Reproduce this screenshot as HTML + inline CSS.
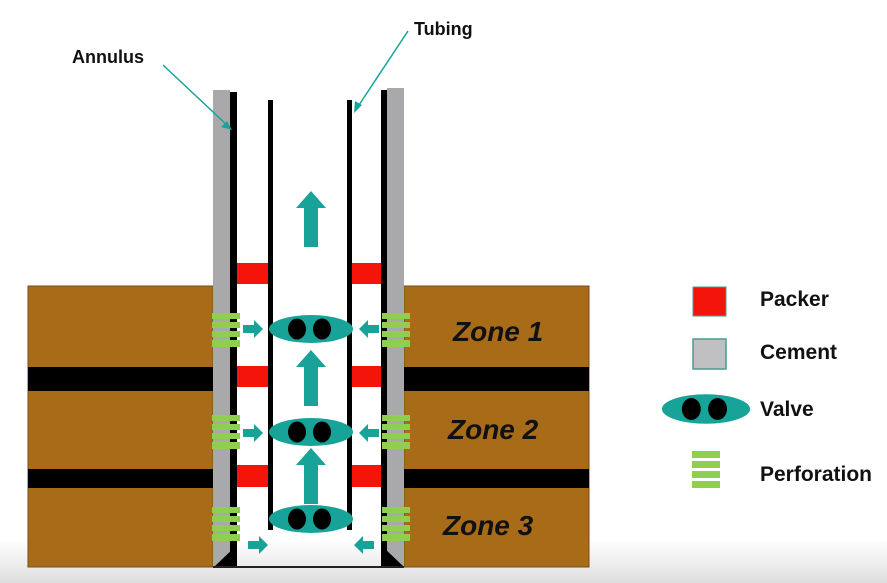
<!DOCTYPE html>
<html><head><meta charset="utf-8"><style>
html,body{margin:0;padding:0;background:#fff}
svg{display:block}
text{font-family:"Liberation Sans",Arial,sans-serif;font-weight:bold;fill:#111}
</style></head><body>
<svg width="887" height="583" viewBox="0 0 887 583" xmlns="http://www.w3.org/2000/svg">
<defs>
<linearGradient id="bg" x1="0" y1="0" x2="0" y2="1">
<stop offset="0" stop-color="#fff"/><stop offset="1" stop-color="#dedede"/>
</linearGradient>
<g id="perf" fill="#8fce4f">
<rect x="0" y="0" width="28" height="6"/><rect x="0" y="9" width="28" height="6"/>
<rect x="0" y="18" width="28" height="6"/><rect x="0" y="27" width="28" height="7"/>
</g>
<g id="valve">
<ellipse cx="0" cy="0" rx="42" ry="14" fill="#17a398"/>
<ellipse cx="-14" cy="0" rx="9" ry="10.5" fill="#000"/>
<ellipse cx="11" cy="0" rx="9" ry="10.5" fill="#000"/>
</g>
<polygon id="bigup" points="0,-28 15,-11 7,-11 7,28 -7,28 -7,-11 -15,-11" fill="#17a398"/>
<polygon id="smr" points="-10,-4 1,-4 1,-9 10,0 1,9 1,4 -10,4" fill="#17a398"/>
</defs>
<rect x="0" y="540" width="887" height="43" fill="url(#bg)"/>
<rect x="28" y="286" width="185" height="281" fill="#a86c19" stroke="#7a4a18" stroke-width="1"/>
<rect x="404" y="286" width="185" height="281" fill="#a86c19" stroke="#7a4a18" stroke-width="1"/>
<rect x="28" y="367" width="185" height="24" fill="#000"/>
<rect x="28" y="469" width="185" height="19" fill="#000"/>
<rect x="404" y="367" width="185" height="24" fill="#000"/>
<rect x="404" y="469" width="185" height="19" fill="#000"/>
<rect x="213" y="90" width="17" height="477" fill="#a9a9ab"/>
<rect x="230" y="92" width="7" height="475" fill="#000"/>
<rect x="387" y="88" width="17" height="479" fill="#a9a9ab"/>
<rect x="381" y="90" width="6" height="477" fill="#000"/>
<polygon points="214,567 237,545 237,567" fill="#000"/>
<polygon points="404,567 381,545 381,567" fill="#000"/>
<rect x="213" y="566" width="191" height="2" fill="#222"/>
<rect x="268" y="100" width="5" height="430" fill="#000"/>
<rect x="347" y="100" width="5" height="430" fill="#000"/>
<rect x="237" y="263" width="31" height="21" fill="#f5140a"/>
<rect x="352" y="263" width="29" height="21" fill="#f5140a"/>
<rect x="237" y="366" width="31" height="21" fill="#f5140a"/>
<rect x="352" y="366" width="29" height="21" fill="#f5140a"/>
<rect x="237" y="465" width="31" height="22" fill="#f5140a"/>
<rect x="352" y="465" width="29" height="22" fill="#f5140a"/>
<use href="#perf" x="212" y="313"/><use href="#perf" x="382" y="313"/>
<use href="#perf" x="212" y="415"/><use href="#perf" x="382" y="415"/>
<use href="#perf" x="212" y="507"/><use href="#perf" x="382" y="507"/>
<use href="#bigup" x="311" y="219"/>
<use href="#bigup" x="311" y="378"/>
<use href="#bigup" x="311" y="476"/>
<use href="#smr" x="253" y="329"/>
<use href="#smr" x="253" y="433"/>
<use href="#smr" x="258" y="545"/>
<use href="#smr" x="369" y="329" transform="rotate(180 369 329)"/>
<use href="#smr" x="369" y="433" transform="rotate(180 369 433)"/>
<use href="#smr" x="364" y="545" transform="rotate(180 364 545)"/>
<use href="#valve" x="311" y="329"/>
<use href="#valve" x="311" y="432"/>
<use href="#valve" x="311" y="519"/>
<text x="72" y="63" font-size="18">Annulus</text>
<text x="414" y="35" font-size="18">Tubing</text>
<line x1="163" y1="65" x2="228" y2="126" stroke="#17a398" stroke-width="1.5"/>
<polygon points="232,130 221,127 227,121" fill="#17a398"/>
<line x1="408" y1="31" x2="357" y2="108" stroke="#17a398" stroke-width="1.5"/>
<polygon points="354,113 355,101 362,105" fill="#17a398"/>
<text x="453" y="341" font-size="28" font-style="italic">Zone 1</text>
<text x="448" y="439" font-size="28" font-style="italic">Zone 2</text>
<text x="443" y="535" font-size="28" font-style="italic">Zone 3</text>
<rect x="693" y="287" width="33" height="29" fill="#f5140a" stroke="#4a9a90" stroke-width="1"/>
<rect x="693" y="339" width="33" height="30" fill="#c0bfc1" stroke="#4a9a90" stroke-width="1.5"/>
<use href="#valve" x="706" y="409" transform="translate(706 409) scale(1.05) translate(-706 -409)"/>
<g fill="#8fce4f">
<rect x="692" y="451" width="28" height="7"/><rect x="692" y="461" width="28" height="7"/>
<rect x="692" y="471" width="28" height="7"/><rect x="692" y="481" width="28" height="7"/>
</g>
<text x="760" y="306" font-size="21">Packer</text>
<text x="760" y="359" font-size="21">Cement</text>
<text x="760" y="416" font-size="21">Valve</text>
<text x="760" y="481" font-size="21">Perforation</text>
</svg>
</body></html>
